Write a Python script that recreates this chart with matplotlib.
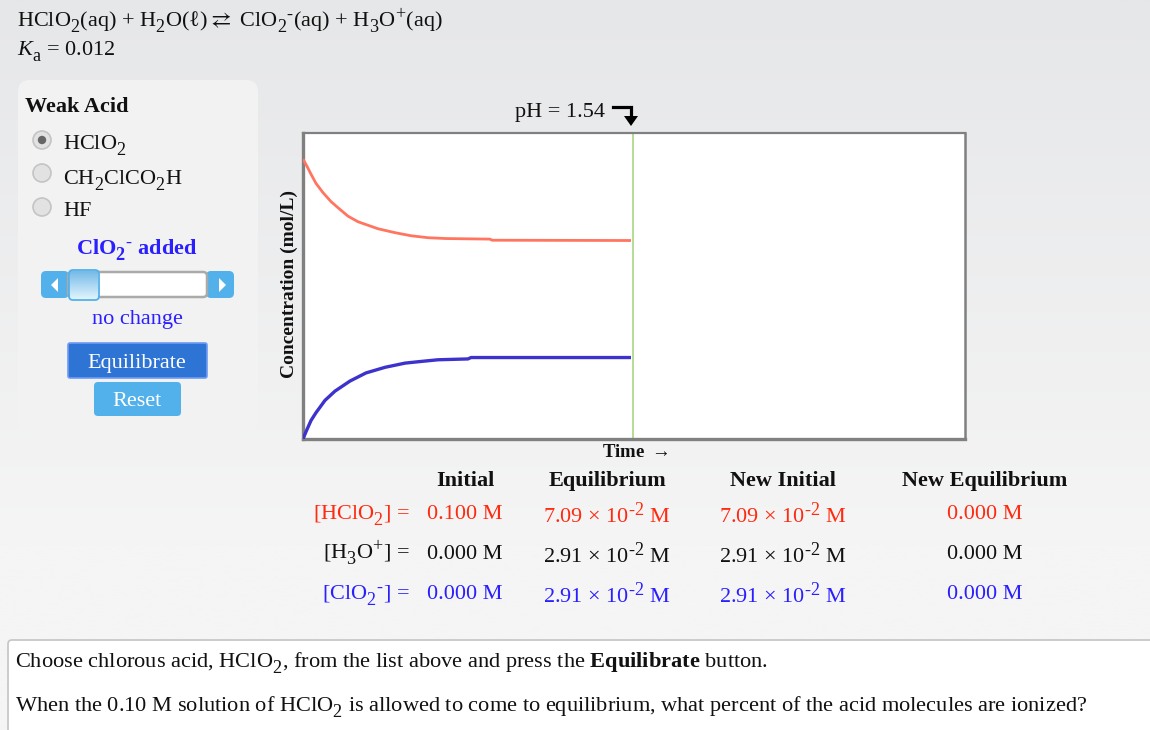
import numpy as np
import matplotlib
matplotlib.use('Agg')
import matplotlib.pyplot as plt
import matplotlib._mathtext as mt
from matplotlib.colors import LinearSegmentedColormap
from matplotlib.patches import FancyBboxPatch, Circle, Polygon

plt.rcParams['font.family'] = ['Liberation Serif', 'DejaVu Serif']
plt.rcParams['mathtext.fontset'] = 'custom'
plt.rcParams['mathtext.rm'] = 'Liberation Serif'
plt.rcParams['mathtext.it'] = 'Liberation Serif:italic'
plt.rcParams['mathtext.bf'] = 'Liberation Serif:bold'
plt.rcParams['mathtext.default'] = 'regular'
plt.rcParams['mathtext.fallback'] = 'stix'
# browser subscripts are larger and lower than the mathtext default
mt.SHRINK_FACTOR = 0.82
mt.FontConstantsBase.subdrop = 0.7
mt.FontConstantsBase.sub1 = 0.6

# curves (time in arbitrary units)
time_acid = [0, 4, 8, 13, 20, 28, 37, 45, 55, 75, 92, 108, 125, 143, 187, 189, 328]
conc_acid = [.100, .0974, .0946, .0913, .0880, .0848, .0820, .0796, .0776, .0751, .0737,
             .0726, .0719, .0716, .0714, .0710, .0709]
time_base = [0, 3, 8, 13, 22, 32, 47, 63, 82, 102, 118, 135, 165, 168, 328]
conc_base = [0, .0026, .0066, .0094, .0138, .0171, .0207, .0236, .0256, .0271, .0277,
             .0283, .0286, .0291, .0291]
time_now = 330
time_max = 662
conc_max = 0.1093

acids = ['$HClO_2$', '$CH_2ClCO_2H$', 'HF']
row_labels = ['[$HClO_2$] =', '[$H_3O{}^{+}$] =', r'[$ClO_2{}^{\text{-}}$] =']
col_labels = ['Initial', 'Equilibrium', 'New Initial', 'New Equilibrium']
initial = ['0.100 M', '0.000 M', '0.000 M']
equilibrium = [r'7.09 × 10$^{\text{-}2}$ M', r'2.91 × 10$^{\text{-}2}$ M', r'2.91 × 10$^{\text{-}2}$ M']
new_initial = [r'7.09 × 10$^{\text{-}2}$ M', r'2.91 × 10$^{\text{-}2}$ M', r'2.91 × 10$^{\text{-}2}$ M']
new_equilibrium = ['0.000 M', '0.000 M', '0.000 M']

RED = '#ff2a10'
BLUE = '#2a1fff'
BLACK = '#111111'
row_colors = [RED, BLACK, BLUE]
LIGHTBLUE = '#52b0ea'

fig = plt.figure(figsize=(11.5, 7.3), dpi=100)

# page layer in pixel coordinates
bg = fig.add_axes([0, 0, 1, 1])
bg.axis('off')
bg.imshow(np.linspace(0, 1, 300).reshape(-1, 1), extent=[0, 1150, 730, 0], aspect='auto', zorder=0,
          cmap=LinearSegmentedColormap.from_list('page', ['#e6e7e9', '#f5f5f5']), vmin=0, vmax=0.75)


def box(x0, y0, x1, y1, color, edge='none', lw=0, r=4, z=1):
    bg.add_patch(FancyBboxPatch((x0 + r, y0 + r), x1 - x0 - 2 * r, y1 - y0 - 2 * r,
                                boxstyle='round,pad=%d,rounding_size=%d' % (r, r),
                                fc=color, ec=edge, lw=lw, zorder=z))


# y is the text baseline
def label(x, y, s, size=16, color=BLACK, ha='left', weight='normal', va='baseline', **kw):
    return bg.text(x, y, s, fontsize=size, color=color, ha=ha, va=va,
                   fontweight=weight, zorder=5, **kw)


# header
label(17, 27, r'$HClO_2$(aq) + $H_2O(\ell)$ $\!\!\rightleftarrows$ $ClO_2{}^{\text{-}}$(aq) + $H_3O{}^{+}$(aq)')
label(17, 55, r'$\mathit{K}_a$ = 0.012')

# left panel
box(18, 80, 258, 435, '#f2f2f3', r=12)
label(25, 112, 'Weak Acid', weight='bold')
text_y = [149, 184, 216]
for i, name in enumerate(acids):
    y = [140, 173, 207][i]
    bg.add_patch(Circle((42, y), 9, fc='#e2e2e2', ec='#c4c4c4', lw=1.2, zorder=3))
    if i == 0:
        bg.add_patch(Circle((42, y), 4.2, fc='#666666', ec='none', zorder=4))
    label(63, text_y[i], name)

label(137, 254, r'$ClO_2{}^{\text{-}}$ added', color=BLUE, weight='bold', ha='center')
box(41, 271, 69, 298, LIGHTBLUE, r=5, z=2)
box(206, 271, 234, 298, LIGHTBLUE, r=5, z=2)
box(68, 272, 207, 297, 'white', edge='#aaaaaa', lw=1.8, r=4, z=3)
bg.imshow(np.linspace(0, 1, 30).reshape(-1, 1), extent=[70, 98, 299, 271], aspect='auto', zorder=4,
          cmap=LinearSegmentedColormap.from_list('knob', ['#76bbe8', '#dff3fd']))
bg.add_patch(FancyBboxPatch((72, 273), 24, 24, boxstyle='round,pad=3,rounding_size=4',
                            fc='none', ec=LIGHTBLUE, lw=1.3, zorder=5))
bg.set_xlim(0, 1150)
bg.set_ylim(730, 0)
bg.add_patch(Polygon([[58, 278], [58, 292], [51, 285]], fc='white', ec='none', zorder=5))
bg.add_patch(Polygon([[219, 278], [219, 292], [226, 285]], fc='white', ec='none', zorder=5))
label(137, 324, 'no change', color=BLUE, ha='center')

box(68, 343, 207, 378, '#2d74d4', edge='#6f9bf5', lw=1.2, r=2, z=2)
label(137, 368, 'Equilibrate', color='white', ha='center', size=16)
box(94, 382, 181, 416, LIGHTBLUE, r=4, z=2)
label(137, 406, 'Reset', color='white', ha='center', size=16)

# pH marker
label(515, 117, 'pH = 1.54')
bg.plot([613, 631, 631], [107, 107, 118], color='black', lw=2.3, zorder=5, solid_joinstyle='miter')
bg.add_patch(Polygon([[624, 116], [638, 116], [631, 126]], fc='black', ec='none', zorder=5))

# main chart
ax = fig.add_axes([303 / 1150, 1 - 439 / 730, 662 / 1150, 306 / 730])
ax.plot(time_acid, conc_acid, color='#ff7560', lw=2.0, solid_capstyle='butt', zorder=3)
ax.plot(time_base, conc_base, color='#3d33cc', lw=2.4, solid_capstyle='butt', zorder=3)
ax.axvline(time_now, color='#b4dc96', lw=1.4, zorder=2)
ax.set_xlim(0, time_max)
ax.set_ylim(0, conc_max)
ax.set_xticks([])
ax.set_yticks([])
for side, lw in zip(['top', 'right', 'left', 'bottom'], [1.6, 1.8, 2.4, 2.4]):
    ax.spines[side].set_color('#808080')
    ax.spines[side].set_linewidth(lw)

label(289.5, 284, 'Concentration (mol/L)', weight='bold', ha='center', va='center',
      size=14, rotation=90)
label(635, 457, r'Time $\rightarrow$', weight='bold', ha='center', size=13.5)

# values table
col_x = [465, 607, 783, 985]
for x, head in zip(col_x, col_labels):
    label(x, 486, head, weight='bold', ha='center')
row_y = [519, 559, 599]
for i in range(3):
    c = row_colors[i]
    label(410, row_y[i], row_labels[i], color=c, ha='right')
    label(465, row_y[i], initial[i], color=c, ha='center')
    label(607, row_y[i] + 3.5, equilibrium[i], color=c, ha='center')
    label(783, row_y[i] + 3.5, new_initial[i], color=c, ha='center')
    label(985, row_y[i], new_equilibrium[i], color=c, ha='center')

# question box
box(10, 642, 1170, 760, '#d8d8d8', r=4, z=1)
box(8, 640, 1170, 760, 'white', edge='#c4c4c4', lw=1.2, r=4, z=2)
label(15, 667, r'Choose chlorous acid, $HClO_2$, from the list above and press the $\mathbf{Equilibrate}$ button.', size=16.15)
label(15, 711, r'When the 0.10 M solution of $HClO_2$ is allowed to come to equilibrium, what percent of the acid molecules are ionized?', size=16.15)

fig.savefig('out.png', dpi=100)
